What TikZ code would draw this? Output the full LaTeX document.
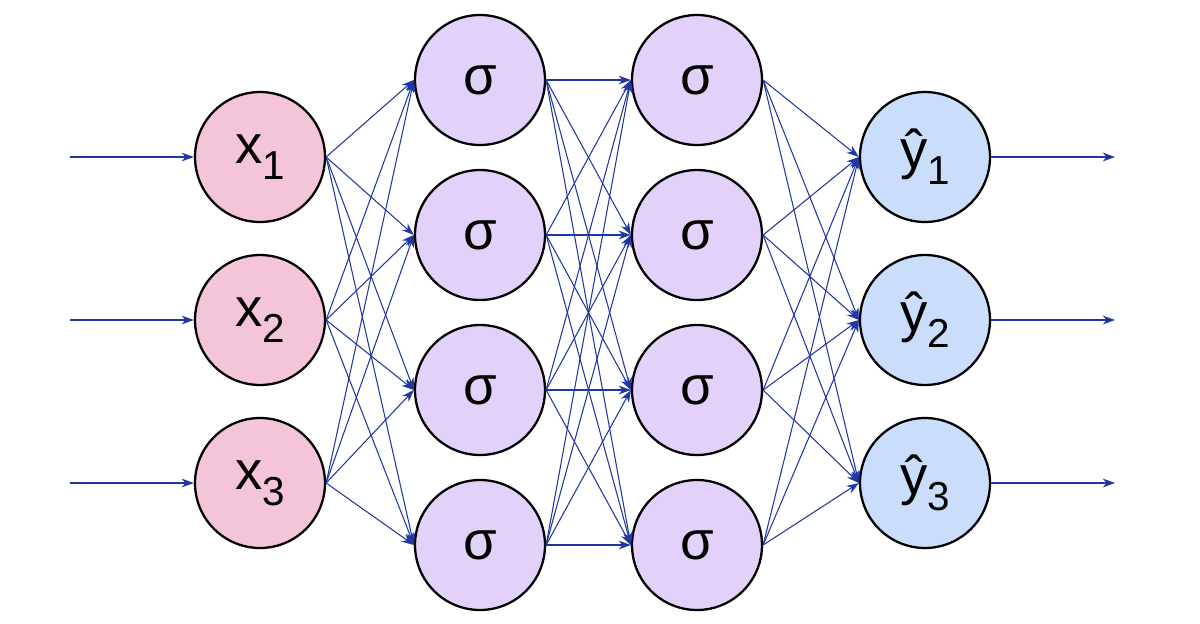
\documentclass[tikz,border=0pt]{standalone}
\usepackage{fontspec}
\setmainfont{Liberation Sans}
\usetikzlibrary{positioning,arrows.meta}
\definecolor{inpink}{HTML}{F4C4D8}
\definecolor{hidlav}{HTML}{E2D2F9}
\definecolor{outblue}{HTML}{CADDFA}
\definecolor{wire}{HTML}{2036A0}
\newcommand{\lowsub}[1]{\raisebox{-0.55ex}{\fontsize{23}{25}\selectfont #1}}
\begin{document}
\begin{tikzpicture}[x=0.02cm, y=-0.02cm, >={Stealth[length=7pt,width=5pt]},
    neuron/.style={draw, circle, line width=1.3pt, minimum size=2.6cm, inner sep=0pt, font=\fontsize{31}{33}\selectfont},
    edge/.style={->, wire, line width=0.6pt}]
        \useasboundingbox (0,0) rectangle (1200,623);
        % Nodes
        \foreach \i/\y in {1/157,2/320,3/483}
            \node[neuron, fill=inpink] (x\i) at (260,\y) {x\lowsub{\i}};
        \foreach \i/\y in {1/80,2/235,3/390,4/545} {
            \node[neuron, fill=hidlav] (a\i) at (480,\y) {σ};
            \node[neuron, fill=hidlav] (b\i) at (697,\y) {σ};
        }
        \foreach \i/\y in {1/157,2/320,3/483}
            \node[neuron, fill=outblue] (y\i) at (925,\y) {ŷ\lowsub{\i}};
        % Free ends
        \foreach \i/\y in {1/157,2/320,3/483} {
            \coordinate (in\i) at (70,\y);
            \coordinate (out\i) at (1115,\y);
            \draw[edge] (in\i) -- (x\i);
            \draw[edge] (y\i) -- (out\i);
        }
        % Arrows
        \foreach \i in {1,2,3}
            \foreach \j in {1,...,4}
                \draw[edge] (x\i.east) -- (a\j.west);
        \foreach \i in {1,...,4}
            \foreach \j in {1,...,4}
                \draw[edge] (a\i.east) -- (b\j.west);
        \foreach \i in {1,...,4}
            \foreach \j in {1,2,3}
                \draw[edge] (b\i.east) -- (y\j.west);
    \end{tikzpicture}
\end{document}
